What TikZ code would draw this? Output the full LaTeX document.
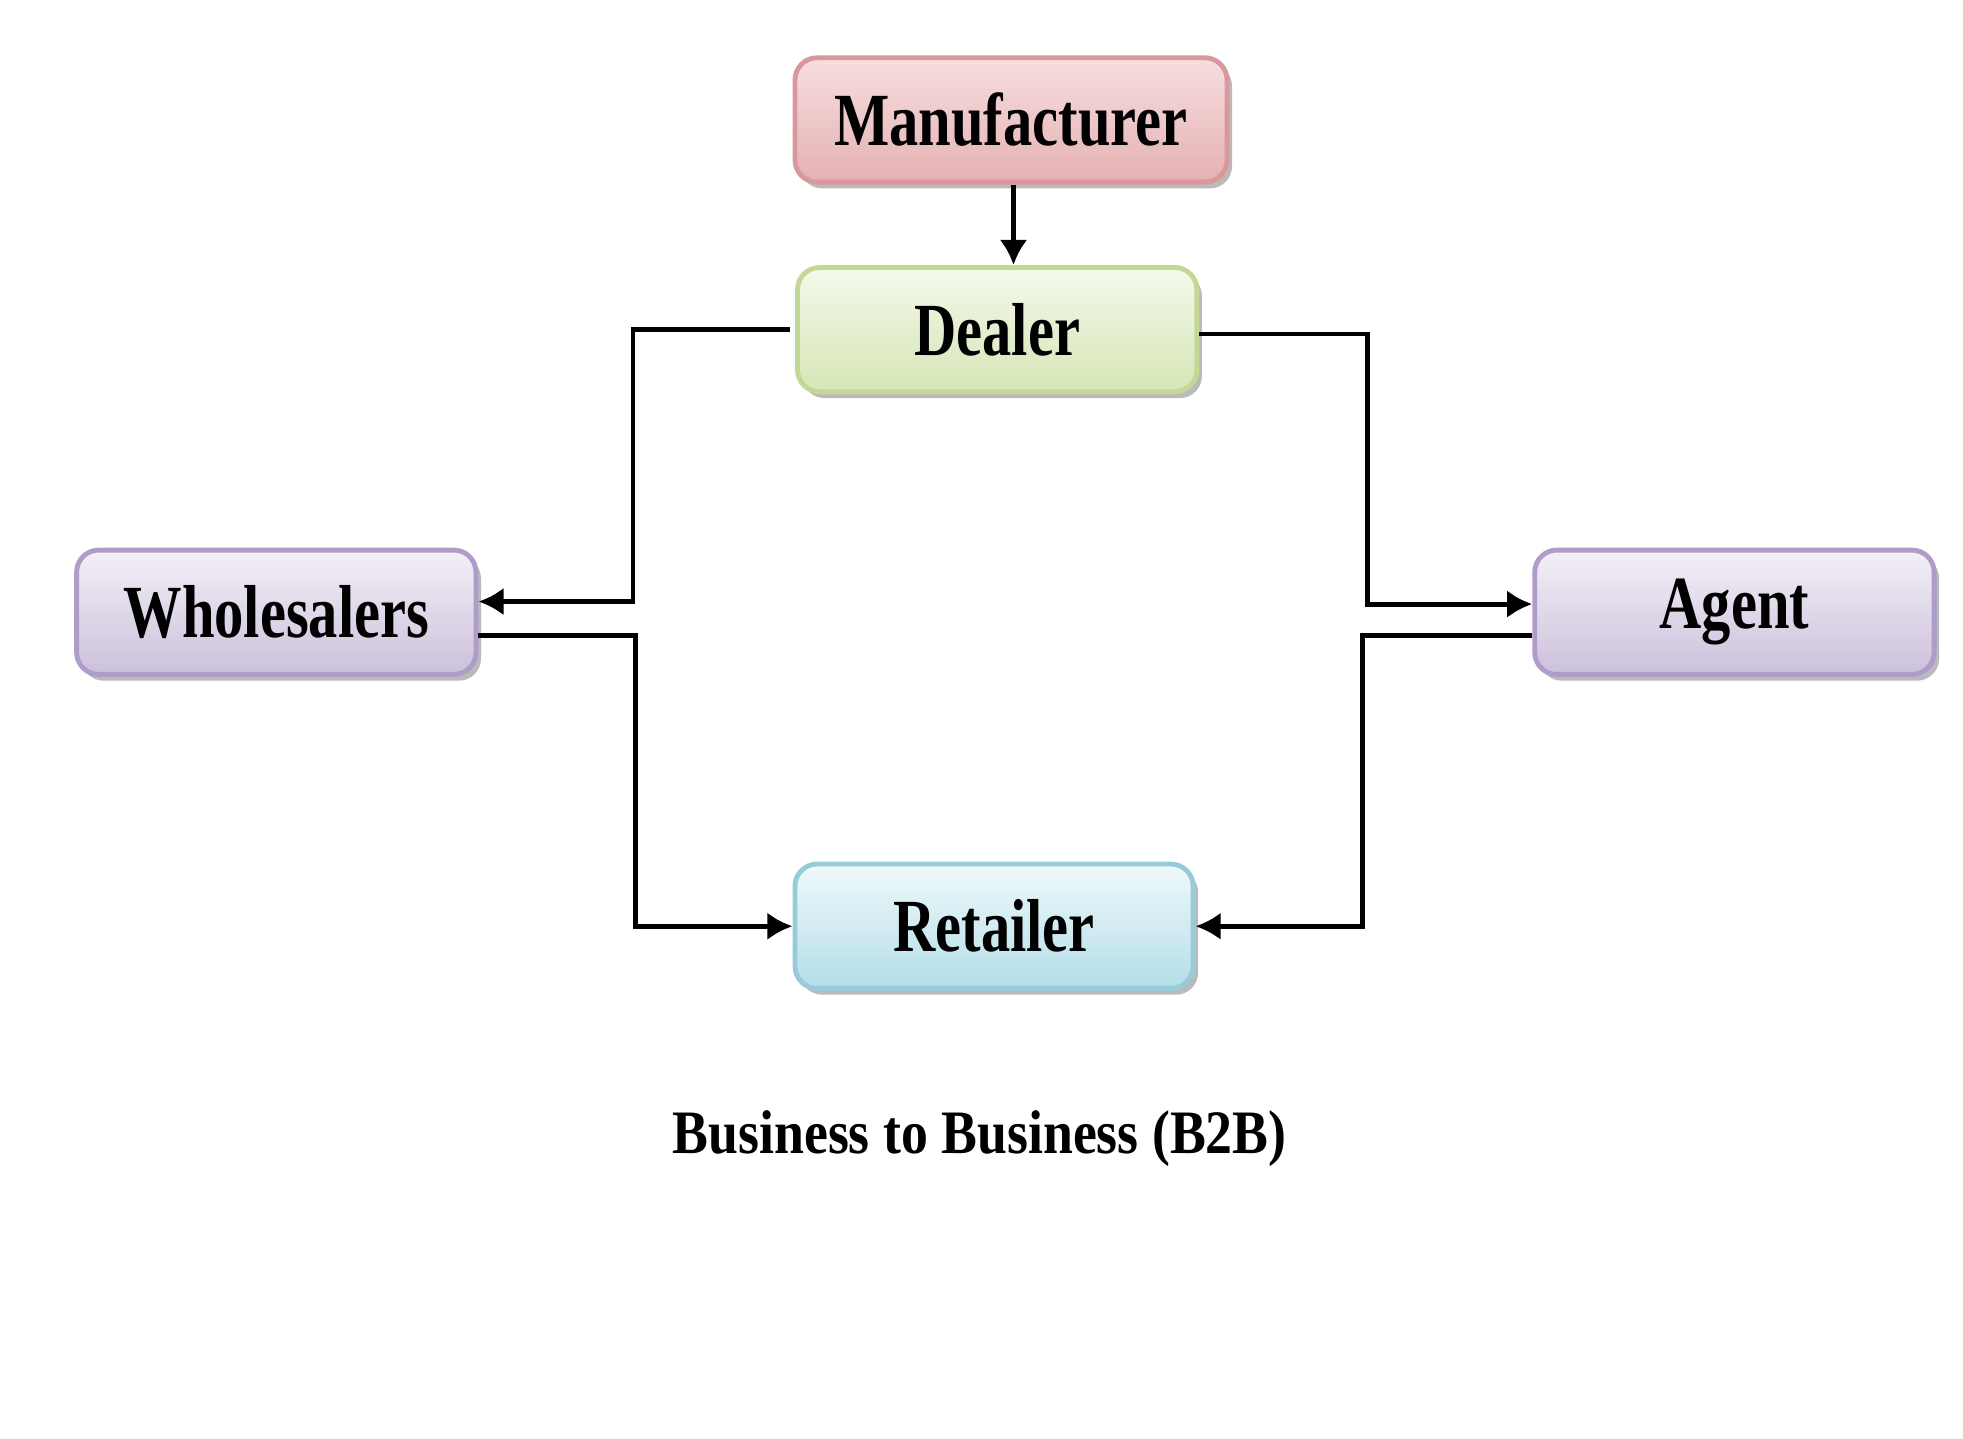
\documentclass[tikz,border=0pt]{standalone}
\usepackage{fontspec}
\setmainfont{Liberation Serif}
\usetikzlibrary{arrows.meta,shadows}
\definecolor{mtop}{HTML}{F7DEDF}\definecolor{mbot}{HTML}{E5B1B3}\definecolor{mdr}{HTML}{D9989B}
\definecolor{dtop}{HTML}{F4F9EA}\definecolor{dbot}{HTML}{D6E5B6}\definecolor{ddr}{HTML}{C4D896}
\definecolor{ptop}{HTML}{F3F0F7}\definecolor{pbot}{HTML}{CCC0DC}\definecolor{pdr}{HTML}{B09CC8}
\definecolor{rtop}{HTML}{F0F9FB}\definecolor{rbot}{HTML}{B3DEE8}\definecolor{rdr}{HTML}{97CBD9}
\newcommand{\cond}[1]{\scalebox{0.78}[1]{#1}}
\tikzset{
 box/.style={rounded corners=5pt, line width=1.1pt, minimum height=0.99cm, inner sep=0pt,
   font=\fontsize{17}{20}\selectfont\bfseries,
   drop shadow={shadow xshift=0.04cm, shadow yshift=-0.05cm, opacity=0.45, fill=black!60}},
 conn/.style={line width=1.1pt, draw=black},
 arr/.style={conn,-{Latex[length=0.2cm,width=0.22cm]}}
}
\begin{document}
\begin{tikzpicture}[x=1cm,y=1cm]
\useasboundingbox (0,0) rectangle (15.63,11.45);
\node[box, draw=mdr, top color=mtop, bottom color=mbot, minimum width=3.44cm] (man) at (8.05,10.495) {\cond{Manufacturer}};
\node[box, draw=ddr, top color=dtop, bottom color=dbot, minimum width=3.18cm] (dea) at (7.94,8.825) {\cond{Dealer}};
\node[box, draw=pdr, top color=ptop, bottom color=pbot, minimum width=3.18cm] (who) at (2.20,6.575) {\cond{Wholesalers}};
\node[box, draw=pdr, top color=ptop, bottom color=pbot, minimum width=3.18cm] (age) at (13.81,6.575) {\cond{Agent}};
\node[box, draw=rdr, top color=rtop, bottom color=rbot, minimum width=3.17cm] (ret) at (7.915,4.075) {\cond{Retailer}};
\node[font=\fontsize{14}{17}\selectfont\bfseries] (title) at (7.80,2.38) {\scalebox{0.87}[1]{Business to Business (B2B)}};
\draw[arr] ([xshift=0.02cm]man.south) -- ([xshift=0.13cm]dea.north);
\draw[arr] ([xshift=-0.04cm]dea.west) -- ++(-1.25,0) |- ([yshift=0.085cm]who.east);
\draw[arr] ([yshift=-0.035cm]dea.east) -- ++(1.34,0) |- ([yshift=0.065cm]age.west);
\draw[arr] ([yshift=-0.185cm]who.east) -- (5.06,6.39) |- (ret.west);
\draw[arr] ([yshift=-0.185cm]age.west) -- (10.85,6.39) |- (ret.east);
\end{tikzpicture}
\end{document}
